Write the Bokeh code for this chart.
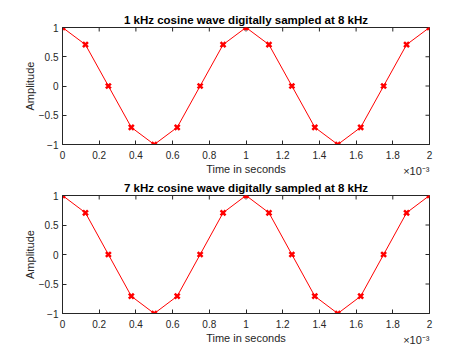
import math
from bokeh.plotting import figure
from bokeh.layouts import column
from bokeh.models import (FixedTicker, Range1d, Title, CustomJSTickFormatter)
from bokeh.embed import file_html
from bokeh.resources import INLINE

# sample times in seconds (8 kHz sampling, 0..2 ms)
t_sec = [0.0, 0.000125, 0.00025, 0.000375, 0.0005, 0.000625, 0.00075,
         0.000875, 0.001, 0.001125, 0.00125, 0.001375, 0.0015, 0.001625,
         0.00175, 0.001875, 0.002]
# sampled amplitudes
amp_1k = [1, 0.707, 0, -0.707, -1, -0.707, 0, 0.707, 1, 0.707, 0, -0.707,
          -1, -0.707, 0, 0.707, 1]
amp_7k = [1, 0.707, 0, -0.707, -1, -0.707, 0, 0.707, 1, 0.707, 0, -0.707,
          -1, -0.707, 0, 0.707, 1]
titles = ["1 kHz cosine wave digitally sampled at 8 kHz",
          "7 kHz cosine wave digitally sampled at 8 kHz"]
x_ticks = [0, 0.0002, 0.0004, 0.0006, 0.0008, 0.001, 0.0012, 0.0014,
           0.0016, 0.0018, 0.002]
y_ticks = [-1, -0.5, 0, 0.5, 1]
x_range = (0, 0.002)
y_range = (-1, 1)
x_label = "Time in seconds"
y_label = "Amplitude"
x_exponent = "\u00d710\u207b\u00b3"

FONT = "Liberation Sans"
AX = "#262626"

fmt = CustomJSTickFormatter(code="return String(Math.round(tick*1e4)/10);")


def style_axis(ax):
    ax.major_tick_in = 4
    ax.major_tick_out = 0
    ax.minor_tick_line_color = None
    ax.axis_line_color = AX
    ax.major_tick_line_color = AX
    ax.major_label_text_font = FONT
    ax.major_label_text_color = AX
    ax.major_label_text_font_size = "10px"
    ax.axis_label_text_font = FONT
    ax.axis_label_text_font_style = "normal"
    ax.axis_label_text_font_size = "11px"
    ax.axis_label_text_color = AX


def make(title, amp, height, top, bottom):
    p = figure(width=474, height=height, output_backend="svg",
               toolbar_location=None, x_range=Range1d(*x_range),
               y_range=Range1d(*y_range),
               min_border_left=62, min_border_right=45,
               min_border_top=top, min_border_bottom=bottom,
               x_axis_label=x_label, y_axis_label=y_label)
    p.title.text = title
    p.title.align = "center"
    p.title.text_font = FONT
    p.title.text_font_size = "11.5px"
    p.title.text_font_style = "bold"
    p.title.text_color = "#000000"
    p.title.standoff = 3
    p.xgrid.visible = False
    p.ygrid.visible = False
    p.outline_line_color = AX
    p.background_fill_color = "white"
    p.border_fill_color = "white"
    p.xaxis.ticker = FixedTicker(ticks=x_ticks)
    p.xaxis.formatter = fmt
    p.yaxis.ticker = FixedTicker(ticks=y_ticks)
    style_axis(p.xaxis[0])
    style_axis(p.yaxis[0])
    p.xaxis.major_label_standoff = 6
    p.xaxis.axis_label_standoff = 1
    p.yaxis.major_label_standoff = 4
    p.yaxis.axis_label_standoff = 0
    # inward ticks on the top and right edges of the box (clipped to frame)
    p.scatter(x_ticks, [y_range[1]] * len(x_ticks), marker="dash", size=8,
              angle=math.pi / 2, line_color=AX, line_width=1)
    p.scatter([x_range[1]] * len(y_ticks), y_ticks, marker="dash", size=8,
              line_color=AX, line_width=1)
    p.line(t_sec, amp, line_color="#ff0000", line_width=1)
    p.scatter(t_sec, amp, marker="x", size=7, line_color="#ff0000",
              line_width=2.5)
    p.add_layout(Title(text=x_exponent, align="right", vertical_align="top",
                       text_font=FONT, text_font_size="11px", text_color=AX,
                       text_font_style="normal", standoff=-25), "below")
    return p


p1 = make(titles[0], amp_1k, 178, 27, 34)
p2 = make(titles[1], amp_7k, 177, 17, 42)
p = column(p1, p2, spacing=0)

open("out.html", "w").write(file_html(p, INLINE))
